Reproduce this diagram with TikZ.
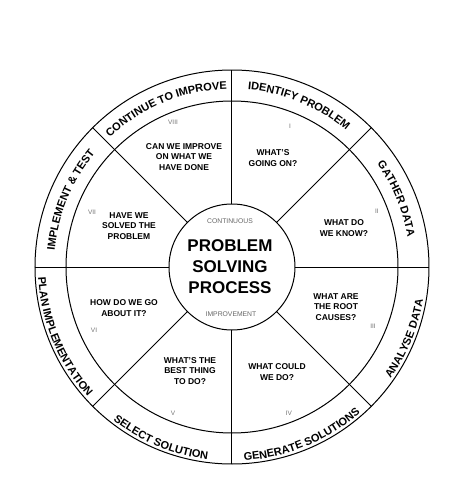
\documentclass[tikz,border=0pt]{standalone}
\usepackage{fontspec}
\setmainfont{Liberation Sans}
\usetikzlibrary{decorations.text}

\newcommand{\wheelfont}{\fontsize{11}{13}\bfseries\selectfont}

\begin{document}
\begin{tikzpicture}[x=1pt,y=1pt,line width=1pt,
  question/.style={align=center,inner sep=0pt,font=\fontsize{8.5}{10.8}\bfseries\selectfont},
  numeral/.style={inner sep=0pt,text=black!55,font=\fontsize{6.5}{8}\selectfont},
  tag/.style={inner sep=0pt,text=black!60,font=\fontsize{6.8}{8}\selectfont},
  ringtext/.style={decorate,decoration={text along path,text align=center,text={|\wheelfont|#1}}}]
\useasboundingbox (-232,-224) rectangle (242,267);
% circles
\draw (0,0) circle (197);
\draw (0,0) circle (166);
\draw (0,0) circle (63);
% spokes
\draw (0:63) -- (0:197);
\draw (45:63) -- (45:197);
\draw (90:63) -- (90:197);
\draw (135:63) -- (135:197);
\draw (180:63) -- (180:197);
\draw (225:63) -- (225:197);
\draw (270:63) -- (270:197);
\draw (315:63) -- (315:197);
% ring, upper half
\path[ringtext={CONTINUE TO IMPROVE}] (135:178) arc (135:90:178);
\path[ringtext={IDENTIFY PROBLEM}] (90:178) arc (90:45:178);
\path[ringtext={GATHER DATA}] (45:178) arc (45:0:178);
\path[ringtext={IMPLEMENT {\&} TEST}] (180:178) arc (180:135:178);
% ring, lower half
\path[ringtext={ANALYSE DATA}] (315:194) arc (315:360:194);
\path[ringtext={GENERATE SOLUTIONS}] (270:194) arc (270:315:194);
\path[ringtext={SELECT SOLUTION}] (225:194) arc (225:270:194);
\path[ringtext={PLAN IMPLEMENTATION}] (180:194) arc (180:225:194);
% hub
\node[align=center,inner sep=0pt,font=\fontsize{17}{21}\bfseries\selectfont] (title) at (-2,0) {PROBLEM\\SOLVING\\PROCESS};
\node[tag] (cont) at (-2,46) {CONTINUOUS};
\node[tag] (impr) at (-1,-47) {IMPROVEMENT};
% sectors
\node[question] (q1) at (41,109) {WHAT'S\\GOING ON?};
\node[numeral] (n1) at (58,141) {I};
\node[question] (q2) at (112,39) {WHAT DO\\WE KNOW?};
\node[numeral] (n2) at (145,56) {II};
\node[question] (q3) at (104,-40) {WHAT ARE\\THE ROOT\\CAUSES?};
\node[numeral] (n3) at (141,-59) {III};
\node[question] (q4) at (45,-105) {WHAT COULD\\WE DO?};
\node[numeral] (n4) at (57,-146) {IV};
\node[question] (q5) at (-42,-104) {WHAT'S THE\\BEST THING\\TO DO?};
\node[numeral] (n5) at (-59,-146) {V};
\node[question] (q6) at (-108,-41) {HOW DO WE GO\\ABOUT IT?};
\node[numeral] (n6) at (-138,-63) {VI};
\node[question] (q7) at (-103,41) {HAVE WE\\SOLVED THE\\PROBLEM};
\node[numeral] (n7) at (-140,55) {VII};
\node[question] (q8) at (-48,110) {CAN WE IMPROVE\\ON WHAT WE\\HAVE DONE};
\node[numeral] (n8) at (-59,145) {VIII};
\end{tikzpicture}
\end{document}
